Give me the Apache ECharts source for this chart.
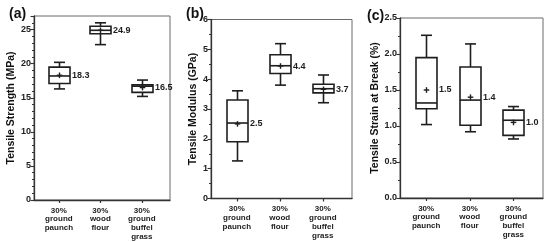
<!DOCTYPE html>
<html>
<head>
<meta charset="utf-8">
<script src="https://cdn.jsdelivr.net/npm/echarts@6/dist/echarts.min.js"></script>
<style>html,body{margin:0;padding:0;background:#fff}#c{width:550px;height:242px}</style>
</head>
<body>
<div id="c"></div>
<script>
// Categories and tick labels
const categories = ['30%\nground\npaunch', '30%\nwood\nflour', '30%\nground\nbuffel\ngrass'];
const panelLetters = ['(a)', '(b)', '(c)'];
const yNames = ['Tensile Strength (MPa)', 'Tensile Modulus (GPa)', 'Tensile Strain at Break (%)'];

// Box stats per category: [whiskerLow, Q1, median, Q3, whiskerHigh]
const strengthBox = [[16.3, 17.1, 18.2, 19.5, 20.2], [22.8, 24.4, 24.9, 25.5, 26.0], [15.2, 15.8, 16.7, 16.9, 17.6]];
const strengthMean = [18.3, 24.9, 16.5];
const strengthLabel = ['18.3', '24.9', '16.5'];

const modulusBox = [[1.26, 1.90, 2.53, 3.30, 3.61], [3.80, 4.19, 4.45, 4.82, 5.19], [3.21, 3.54, 3.68, 3.83, 4.14]];
const modulusMean = [2.5, 4.44, 3.66];
const modulusLabel = ['2.5', '4.4', '3.7'];

const strainBox = [[1.02, 1.24, 1.32, 1.95, 2.26], [0.92, 1.01, 1.36, 1.82, 2.14], [0.82, 0.87, 1.08, 1.22, 1.27]];
const strainMean = [1.50, 1.40, 1.05];
const strainLabel = ['1.5', '1.4', '1.0'];

// Y axis ranges
const yMax = [27, 6, 2.5];
const yInterval = [5, 1, 0.5];
const yMinorSplit = [5, 2, 2];
const yDecimals = [0, 0, 1];
const yShowMax = [false, true, true];

const panels = [
  {box: strengthBox, mean: strengthMean, label: strengthLabel},
  {box: modulusBox, mean: modulusMean, label: modulusLabel},
  {box: strainBox, mean: strainMean, label: strainLabel}
];

const grids = [
  {left: 34, top: 16, width: 136, height: 184},
  {left: 211, top: 19.5, width: 141, height: 179},
  {left: 400, top: 18, width: 143, height: 180}
];
const nameGaps = [16, 11, 19];

const FONT = '"Liberation Sans", Arial, sans-serif';
const INK = '#1e1e1e';

const chart = echarts.init(document.getElementById('c'), null, {renderer: 'canvas'});

function renderBox(labels) {
  return function (params, api) {
    const x = api.value(0);
    const low = api.coord([x, api.value(1)]);
    const q1 = api.coord([x, api.value(2)]);
    const med = api.coord([x, api.value(3)]);
    const q3 = api.coord([x, api.value(4)]);
    const high = api.coord([x, api.value(5)]);
    const mean = api.coord([x, api.value(6)]);
    const cx = Math.round(low[0]) + 0.5;
    const hw = 10.5, cw = 5.5, pm = 2.8;
    const ls = {stroke: INK, lineWidth: 1.6, fill: null};
    const children = [
      {type: 'line', shape: {x1: cx, y1: q1[1], x2: cx, y2: low[1]}, style: ls},
      {type: 'line', shape: {x1: cx, y1: q3[1], x2: cx, y2: high[1]}, style: ls},
      {type: 'line', shape: {x1: cx - cw, y1: low[1], x2: cx + cw, y2: low[1]}, style: ls},
      {type: 'line', shape: {x1: cx - cw, y1: high[1], x2: cx + cw, y2: high[1]}, style: ls},
      {type: 'rect', shape: {x: cx - hw, y: q3[1], width: 2 * hw, height: q1[1] - q3[1]}, style: {stroke: INK, lineWidth: 1.6, fill: '#fff'}},
      {type: 'line', shape: {x1: cx - hw, y1: med[1], x2: cx + hw, y2: med[1]}, style: ls},
      {type: 'line', shape: {x1: cx - pm, y1: mean[1], x2: cx + pm, y2: mean[1]}, style: {stroke: INK, lineWidth: 1.4}},
      {type: 'line', shape: {x1: cx, y1: mean[1] - pm, x2: cx, y2: mean[1] + pm}, style: {stroke: INK, lineWidth: 1.4}},
      {type: 'text', style: {text: labels[params.dataIndex], x: cx + hw + 2, y: mean[1], verticalAlign: 'middle', align: 'left', font: 'bold 9px ' + FONT, fill: INK}}
    ];
    return {type: 'group', children: children};
  };
}

const option = {
  animation: false,
  backgroundColor: '#fff',
  title: panelLetters.map((t, i) => ({
    text: t, left: [4, 181, 362][i], top: [2, 2, 4][i],
    textStyle: {fontFamily: FONT, fontWeight: 'bold', fontSize: 14, color: '#111'}
  })),
  grid: grids.map(g => Object.assign({show: true, borderColor: '#6a6a6a', borderWidth: 1, backgroundColor: 'transparent'}, g)),
  xAxis: grids.map((g, i) => ({
    type: 'value', gridIndex: i, min: 0.4, max: 3.68,
    splitLine: {show: false},
    axisLine: {show: true, onZero: false, lineStyle: {color: '#333', width: 1.3}},
    axisTick: {show: true, length: 3, customValues: [1, 2, 3], lineStyle: {color: '#333', width: 1.2}},
    axisLabel: {
      show: true, customValues: [1, 2, 3], margin: 6,
      formatter: v => categories[Math.round(v) - 1] || '',
      fontFamily: FONT, fontWeight: 'bold', fontSize: 8, lineHeight: 8.8, color: '#222'
    }
  })),
  yAxis: grids.map((g, i) => ({
    type: 'value', gridIndex: i, min: 0, max: yMax[i], interval: yInterval[i],
    name: yNames[i], nameLocation: 'middle', nameGap: nameGaps[i], nameRotate: 90,
    nameTextStyle: {fontFamily: FONT, fontWeight: 'bold', fontSize: 10.5, color: '#111'},
    splitLine: {show: false},
    axisLine: {show: true, lineStyle: {color: '#333', width: 1.3}},
    axisTick: {show: true, length: 3.5, lineStyle: {color: '#333', width: 1.1}},
    minorTick: {show: true, splitNumber: yMinorSplit[i], length: 2, lineStyle: {color: '#333', width: 1}},
    axisLabel: {
      margin: 3, fontFamily: FONT, fontWeight: 'bold', fontSize: 9, color: '#222',
      showMaxLabel: yShowMax[i],
      formatter: v => v.toFixed(yDecimals[i])
    }
  })),
  series: panels.map((p, i) => ({
    type: 'custom', xAxisIndex: i, yAxisIndex: i,
    renderItem: renderBox(p.label),
    encode: {x: 0, y: [1, 2, 3, 4, 5, 6]},
    data: p.box.map((b, k) => [k + 1].concat(b).concat([p.mean[k]]))
  }))
};
chart.setOption(option);
</script>
</body>
</html>
